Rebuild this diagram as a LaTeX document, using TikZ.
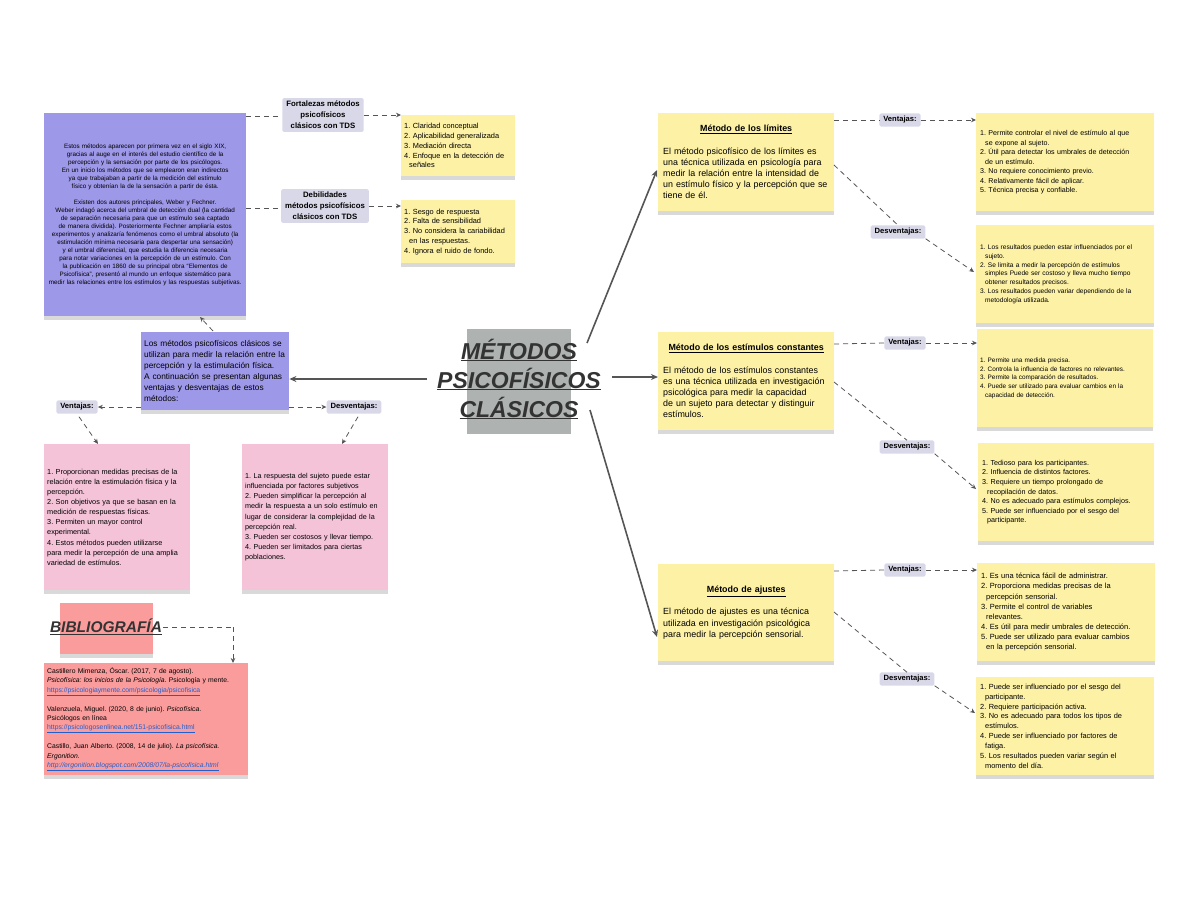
\documentclass[tikz,border=0pt]{standalone}
\usepackage{fontspec}
\setmainfont{Liberation Sans}
\usetikzlibrary{arrows.meta,shadows}
\definecolor{pur}{HTML}{9E98E8}
\definecolor{yel}{HTML}{FDF1A6}
\definecolor{pnk}{HTML}{F4C3D8}
\definecolor{redb}{HTML}{FB9C9C}
\definecolor{grb}{HTML}{AEB3B2}
\definecolor{labg}{HTML}{D9D8E8}
\definecolor{arr}{HTML}{555555}
\definecolor{ttl}{HTML}{333333}
\definecolor{lnk}{HTML}{1F5FD0}
\newcommand{\fs}[2]{\fontsize{#1}{#2}\selectfont\frenchspacing\hyphenpenalty=10000\exhyphenpenalty=10000 }
\newcommand{\ind}{\hspace*{5pt}}
\begin{document}
\begin{tikzpicture}[x=1pt,y=-1pt,
  note/.style={anchor=north west,inner sep=4pt,drop shadow={shadow xshift=0pt,shadow yshift=-4pt,opacity=0.15,fill=black}},
  lab/.style={fill=labg,rounded corners=1.5pt,font=\bfseries\fs{7.6}{9},inner xsep=4pt,inner ysep=3pt,align=center},
  dsh/.style={draw=arr,thick,dash pattern=on 5pt off 4pt,-{Stealth[length=5pt,width=4.5pt]}},
  dshn/.style={draw=arr,thick,dash pattern=on 5pt off 4pt},
  sol/.style={draw=arr,line width=1.6pt,-{Stealth[length=7pt,width=6pt]}}]
\useasboundingbox (0,0) rectangle (1200,900);

% ---------- left column
\node[note,fill=pur,minimum width=202,minimum height=203,text width=196,inner sep=3pt,align=center,font=\fs{6.3}{8}] (hist) at (44,113) {Estos métodos aparecen por primera vez en el siglo XIX, gracias al auge en el interés del estudio científico de la percepción y la sensación por parte de los psicólogos.\\ En un inicio los métodos que se emplearon eran indirectos ya que trabajaban a partir de la medición del estímulo físico y obtenían la de la sensación a partir de ésta.\\[8pt] Existen dos autores principales, Weber y Fechner.\\ Weber indagó acerca del umbral de detección dual (la cantidad de separación necesaria para que un estímulo sea captado de manera dividida). Posteriormente Fechner ampliaría estos experimentos y analizaría fenómenos como el umbral absoluto (la estimulación mínima necesaria para despertar una sensación) y el umbral diferencial, que estudia la diferencia necesaria para notar variaciones en la percepción de un estímulo. Con la publicación en 1860 de su principal obra ``Elementos de Psicofísica'', presentó al mundo un enfoque sistemático para medir las relaciones entre los estímulos y las respuestas subjetivas.\par\vspace{22pt}};

\node[lab,font=\bfseries\fs{7.8}{11}] (fort) at (323,115) {Fortalezas métodos\\psicofísicos\\clásicos con TDS};
\node[lab,font=\bfseries\fs{7.8}{11}] (debi) at (325,206) {Debilidades\\métodos psicofísicos\\clásicos con TDS};

\node[note,fill=yel,minimum width=113,minimum height=61,text width=108,inner sep=3pt,align=left,font=\fs{7.4}{9.7}] (fortl) at (401,115) {1. Claridad conceptual\\2. Aplicabilidad generalizada\\3. Mediación directa\\4. Enfoque en la detección de\\\ind señales};
\node[note,fill=yel,minimum width=113,minimum height=63,text width=108,inner sep=3pt,align=left,font=\fs{7.4}{9.7}] (debil) at (401,200) {1. Sesgo de respuesta\\2. Falta de sensibilidad\\3. No considera la cariabilidad\\\ind en las respuestas.\\4. Ignora el ruido de fondo.};

\draw[dshn] (hist.north east) ++(0,3) coordinate (h1) -- (fort.west |- h1);
\draw[dsh] (fort.east) -- (fortl.west |- fort.east);
\draw[dshn] (246,208) coordinate (h2) -- (debi.west |- h2);
\draw[dsh] (debi.east) -- (debil.west |- debi.east);

\node[note,fill=pur,minimum width=148,minimum height=78,text width=142,inner sep=3pt,align=left,font=\fs{8.3}{11}] (intro) at (141,332) {Los métodos psicofísicos clásicos se utilizan para medir la relación entre la percepción y la estimulación física.\\A continuación se presentan algunas ventajas y desventajas de estos métodos:};
\draw[dsh] (213,331) -- (200,317);

\node[lab] (vent0) at (77,407) {Ventajas:};
\node[lab] (desv0) at (354,407) {Desventajas:};
\draw[dsh] (intro.west |- vent0) -- (vent0.east);
\draw[dsh] (intro.east |- desv0) -- (desv0.west);

\node[note,fill=pnk,minimum width=146,minimum height=146,text width=140,inner sep=3pt,align=left,font=\fs{7.3}{10.1}] (pk1) at (44,444) {1. Proporcionan medidas precisas de la relación entre la estimulación física y la percepción.\\2. Son objetivos ya que se basan en la medición de respuestas físicas.\\3. Permiten un mayor control\\experimental.\\4. Estos métodos pueden utilizarse para medir la percepción de una amplia variedad de estímulos.};
\node[note,fill=pnk,minimum width=146,minimum height=146,text width=140,inner sep=3pt,align=left,font=\fs{7.2}{10.1}] (pk2) at (242,444) {1. La respuesta del sujeto puede estar influenciada por factores subjetivos\\2. Pueden simplificar la percepción al medir la respuesta a un solo estímulo en lugar de considerar la complejidad de la percepción real.\\3. Pueden ser costosos y llevar tiempo.\\4. Pueden ser limitados para ciertas poblaciones.\par\vspace{22pt}};
\draw[dsh] (vent0.south) ++(2,3) -- (98,444);
\draw[dsh] (desv0.south) ++(4,3) -- (342,444);

\node[note,fill=redb,minimum width=93,minimum height=51] (bibbox) at (60,603) {};
\node[font=\bfseries\itshape\fs{15.5}{17},text=ttl,inner sep=1pt] (bibt) at (106,627) {\underline{BIBLIOGRAFÍA}};
\node[note,fill=redb,minimum width=203,minimum height=112,text width=198,inner sep=3pt,align=left,font=\fs{6.8}{9.4}] (bib) at (44,663) {Castillero Mimenza, Óscar. (2017, 7 de agosto).\\\textit{Psicofísica: los inicios de la Psicología}. Psicología y mente.\\\textcolor{lnk}{\underline{https://psicologiaymente.com/psicologia/psicofisica}}\\[9.4pt]Valenzuela, Miguel. (2020, 8 de junio). \textit{Psicofísica}.\\Psicólogos en línea\\\textcolor{lnk}{\underline{https://psicologosenlinea.net/151-psicofisica.html}}\\[9.4pt]Castillo, Juan Alberto. (2008, 14 de julio). \textit{La psicofísica.}\\\textit{Ergonition.}\\\textcolor{lnk}{\underline{\textit{http://ergonition.blogspot.com/2008/07/la-psicofisica.html}}}};
\draw[dshn] (bibt.east) -- (233,627) coordinate (bc);
\draw[dsh] (bc) -- (bib.north west -| bc);

% ---------- centre
\node[fill=grb,minimum width=104,minimum height=105,anchor=north west] (cbox) at (467,329) {};
\node[font=\bfseries\itshape\fs{23}{29},text=ttl,align=center] (title) at (519,379) {\underline{MÉTODOS}\\\underline{PSICOFÍSICOS}\\\underline{CLÁSICOS}};
\draw[sol] (427,379) -- (intro.east |- 0,379);

% ---------- right: methods
\node[note,fill=yel,minimum width=176,minimum height=98,text width=166,inner sep=5pt,align=left,font=\fs{8.9}{11.2}] (m1) at (658,113) {{\centering\underline{\textbf{Método de los límites}}\par}\vspace{11pt}El método psicofísico de los límites es una técnica utilizada en psicología para medir la relación entre la intensidad de un estímulo físico y la percepción que se tiene de él.};
\node[note,fill=yel,minimum width=176,minimum height=98,text width=166,inner sep=5pt,align=left,font=\fs{8.9}{11.2}] (m2) at (658,332) {{\centering\underline{\textbf{Método de los estímulos constantes}}\par}\vspace{11pt}El método de los estímulos constantes es una técnica utilizada en investigación psicológica para medir la capacidad de un sujeto para detectar y distinguir estímulos.};
\node[note,fill=yel,minimum width=176,minimum height=97,text width=166,inner sep=5pt,align=left,font=\fs{8.9}{11.2}] (m3) at (658,564) {{\centering\underline{\textbf{Método de ajustes}}\par}\vspace{11pt}El método de ajustes es una técnica utilizada en investigación psicológica para medir la percepción sensorial.\par\vspace{10pt}};

\coordinate (c1) at (587,343);
\coordinate (c2) at (612,377);
\coordinate (c3) at (590,410);
\draw[sol] (c1) -- (657,170);
\draw[sol] (c2) -- (m2.west |- c2);
\draw[sol] (c3) -- (657,637);

% lists right
\node[note,fill=yel,minimum width=177,minimum height=98,text width=170,inner sep=4pt,align=left,font=\fs{7.1}{9.5}] (l1v) at (976,113) {1. Permite controlar el nivel de estímulo al que\\\ind se expone al sujeto.\\2. Útil para detectar los umbrales de detección\\\ind de un estímulo.\\3. No requiere conocimiento previo.\\4. Relativamente fácil de aplicar.\\5. Técnica precisa y confiable.\par\vspace{16pt}};
\node[note,fill=yel,minimum width=177,minimum height=98,text width=170,inner sep=4pt,align=left,font=\fs{6.6}{8.8}] (l1d) at (976,225) {1. Los resultados pueden estar influenciados por el\\\ind sujeto.\\2. Se limita a medir la percepción de estímulos\\\ind simples Puede ser costoso y lleva mucho tiempo\\\ind obtener resultados precisos.\\3. Los resultados pueden variar dependiendo de la\\\ind metodología utilizada.};
\node[note,fill=yel,minimum width=176,minimum height=98,text width=170,inner sep=3pt,align=left,font=\fs{6.4}{8.7}] (l2v) at (977,329) {1. Permite una medida precisa.\\2. Controla la influencia de factores no relevantes.\\3. Permite la comparación de resultados.\\4. Puede ser utilizado para evaluar cambios en la\\\ind capacidad de detección.\par\vspace{22pt}};
\node[note,fill=yel,minimum width=175,minimum height=98,text width=168,inner sep=4pt,align=left,font=\fs{7.2}{9.6}] (l2d) at (978,443) {1. Tedioso para los participantes.\\2. Influencia de distintos factores.\\3. Requiere un tiempo prolongado de\\\ind recopilación de datos.\\4. No es adecuado para estímulos complejos.\\5. Puede ser influenciado por el sesgo del\\\ind participante.\par\vspace{6pt}};
\node[note,fill=yel,minimum width=176,minimum height=98,text width=170,inner sep=4pt,align=left,font=\fs{7.5}{10.1}] (l3v) at (977,563) {1. Es una técnica fácil de administrar.\\2. Proporciona medidas precisas de la\\\ind percepción sensorial.\\3. Permite el control de variables\\\ind relevantes.\\4. Es útil para medir umbrales de detección.\\5. Puede ser utilizado para evaluar cambios\\\ind en la percepción sensorial.};
\node[note,fill=yel,minimum width=177,minimum height=98,text width=170,inner sep=4pt,align=left,font=\fs{7.4}{9.9}] (l3d) at (976,677) {1. Puede ser influenciado por el sesgo del\\\ind participante.\\2. Requiere participación activa.\\3. No es adecuado para todos los tipos de\\\ind estímulos.\\4. Puede ser influenciado por factores de\\\ind fatiga.\\5. Los resultados pueden variar según el\\\ind momento del día.};

% labels right
\node[lab] (v1) at (900,120) {Ventajas:};
\node[lab] (d1) at (898,232) {Desventajas:};
\node[lab] (v2) at (905,343) {Ventajas:};
\node[lab] (d2) at (907,447) {Desventajas:};
\node[lab] (v3) at (905,570) {Ventajas:};
\node[lab] (d3) at (907,679) {Desventajas:};

\draw[dshn] (834,120) -- (v1.west);
\draw[dsh] (v1.east) -- (l1v.west |- v1.east);
\draw[dshn] (834,165) -- (d1.north);
\draw[dsh] (d1.south east) -- (974,272);

\draw[dshn] (834,344) -- (v2.west);
\draw[dsh] (v2.east) -- (l2v.west |- v2.east);
\draw[dshn] (834,382) -- (d2.north);
\draw[dsh] (d2.south east) -- (976,489);

\draw[dshn] (834,571) -- (v3.west);
\draw[dsh] (v3.east) -- (l3v.west |- v3.east);
\draw[dshn] (834,612) -- (d3.north);
\draw[dsh] (d3.south east) -- (975,713);
\end{tikzpicture}
\end{document}
